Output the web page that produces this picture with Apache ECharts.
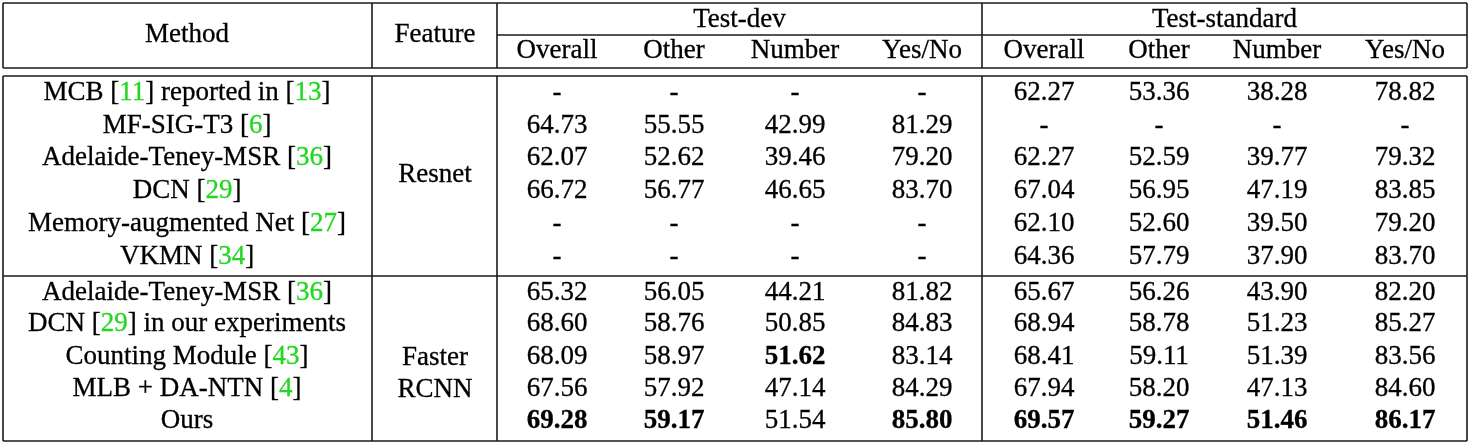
<!DOCTYPE html>
<html>
<head>
<meta charset="utf-8">
<script src="https://cdn.jsdelivr.net/npm/echarts@6/dist/echarts.min.js"></script>
<style>
  html, body { margin: 0; padding: 0; background: #fff; }
  #chart { width: 1471px; height: 447px; }
</style>
</head>
<body>
<div id="chart"></div>
<script>
// table content
var methods = [
  'MCB [11] reported in [13]',
  'MF-SIG-T3 [6]',
  'Adelaide-Teney-MSR [36]',
  'DCN [29]',
  'Memory-augmented Net [27]',
  'VKMN [34]',
  'Adelaide-Teney-MSR [36]',
  'DCN [29] in our experiments',
  'Counting Module [43]',
  'MLB + DA-NTN [4]',
  'Ours'
];
var features = ['Resnet', 'Faster RCNN'];
var splits = ['Test-dev', 'Test-standard'];
var metrics = ['Overall', 'Other', 'Number', 'Yes/No'];

// null = '-'
var devOverall = [null, 64.73, 62.07, 66.72, null, null, 65.32, 68.60, 68.09, 67.56, 69.28];
var devOther   = [null, 55.55, 52.62, 56.77, null, null, 56.05, 58.76, 58.97, 57.92, 59.17];
var devNumber  = [null, 42.99, 39.46, 46.65, null, null, 44.21, 50.85, 51.62, 47.14, 51.54];
var devYesNo   = [null, 81.29, 79.20, 83.70, null, null, 81.82, 84.83, 83.14, 84.29, 85.80];
var stdOverall = [62.27, null, 62.27, 67.04, 62.10, 64.36, 65.67, 68.94, 68.41, 67.94, 69.57];
var stdOther   = [53.36, null, 52.59, 56.95, 52.60, 57.79, 56.26, 58.78, 59.11, 58.20, 59.27];
var stdNumber  = [38.28, null, 39.77, 47.19, 39.50, 37.90, 43.90, 51.23, 51.39, 47.13, 51.46];
var stdYesNo   = [78.82, null, 79.32, 83.85, 79.20, 83.70, 82.20, 85.27, 83.56, 84.60, 86.17];

// layout (pixel units of the 1471x447 canvas)
var colX = [187, 435, 557, 674, 795, 922, 1044, 1159, 1277, 1405];
var rowY = [93, 126, 158, 191, 224, 257, 293, 324, 357, 389, 421];
var headY = [35, 20, 51];
var featureY = [[175], [358, 390]];
var vx = [3, 372, 497, 982, 1467];
var hy = { top: 3, cline: 35, d1: 68, d2: 76, mid: 276, bottom: 441 };

var FONT = '"Liberation Serif", "Times New Roman", serif';
var FS = 27;
var INK = '#000';
var CITE = '#22d622';

var valueCols = [devOverall, devOther, devNumber, devYesNo, stdOverall, stdOther, stdNumber, stdYesNo];

function cite(s) {
  return s.replace(/\[(\d+)\]/g, '[{c|$1}]');
}

function cell(x, y, text, bold) {
  return {
    value: [x, y],
    label: {
      formatter: text,
      fontWeight: bold ? 'bold' : 'normal'
    }
  };
}

var cells = [];
cells.push(cell(colX[0], headY[0], 'Method'));
cells.push(cell(colX[1], headY[0], 'Feature'));
cells.push(cell((vx[2] + vx[3]) / 2, headY[1], splits[0]));
cells.push(cell((vx[3] + vx[4]) / 2, headY[1], splits[1]));
for (var s = 0; s < 2; s++) {
  for (var m = 0; m < metrics.length; m++) {
    cells.push(cell(colX[2 + s * 4 + m], headY[2], metrics[m]));
  }
}
methods.forEach(function (name, i) {
  cells.push(cell(colX[0], rowY[i], cite(name)));
});
features.forEach(function (f, i) {
  f.split(' ').forEach(function (w, k) {
    cells.push(cell(colX[1], featureY[i][k], w));
  });
});
valueCols.forEach(function (col, c) {
  var best = Math.max.apply(null, col.filter(function (v) { return v !== null; }));
  col.forEach(function (v, i) {
    cells.push(cell(colX[2 + c], rowY[i], v === null ? '-' : v.toFixed(2), v === best));
  });
});

// table rules
function seg(x1, y1, x2, y2) { return { coords: [[x1, y1], [x2, y2]] }; }
var rules = [
  seg(vx[0], hy.top, vx[4], hy.top),
  seg(vx[2], hy.cline, vx[4], hy.cline),
  seg(vx[0], hy.d1, vx[4], hy.d1),
  seg(vx[0], hy.d2, vx[4], hy.d2),
  seg(vx[0], hy.mid, vx[4], hy.mid),
  seg(vx[0], hy.bottom, vx[4], hy.bottom)
];
vx.forEach(function (x) {
  rules.push(seg(x, hy.top, x, hy.d1));
  rules.push(seg(x, hy.d2, x, hy.bottom));
});

var chart = echarts.init(document.getElementById('chart'), null, { renderer: 'canvas' });
chart.setOption({
  animation: false,
  backgroundColor: '#fff',
  grid: { left: 0, right: 0, top: 0, bottom: 0 },
  xAxis: { type: 'value', min: 0, max: 1471, show: false },
  yAxis: { type: 'value', min: 0, max: 447, inverse: true, show: false },
  series: [
    {
      type: 'lines',
      coordinateSystem: 'cartesian2d',
      silent: true,
      lineStyle: { color: '#1a1a1a', width: 1.6, opacity: 1 },
      data: rules
    },
    {
      type: 'scatter',
      silent: true,
      symbolSize: 0,
      itemStyle: { color: 'transparent' },
      label: {
        show: true,
        position: 'inside',
        align: 'center',
        verticalAlign: 'middle',
        fontFamily: FONT,
        fontSize: FS,
        color: INK,
        opacity: 1,
        textBorderColor: INK,
        textBorderWidth: 0.3,
        rich: {
          c: { color: CITE, fontFamily: FONT, fontSize: FS, textBorderColor: CITE, textBorderWidth: 0.3 }
        }
      },
      data: cells
    }
  ]
});
</script>
</body>
</html>
